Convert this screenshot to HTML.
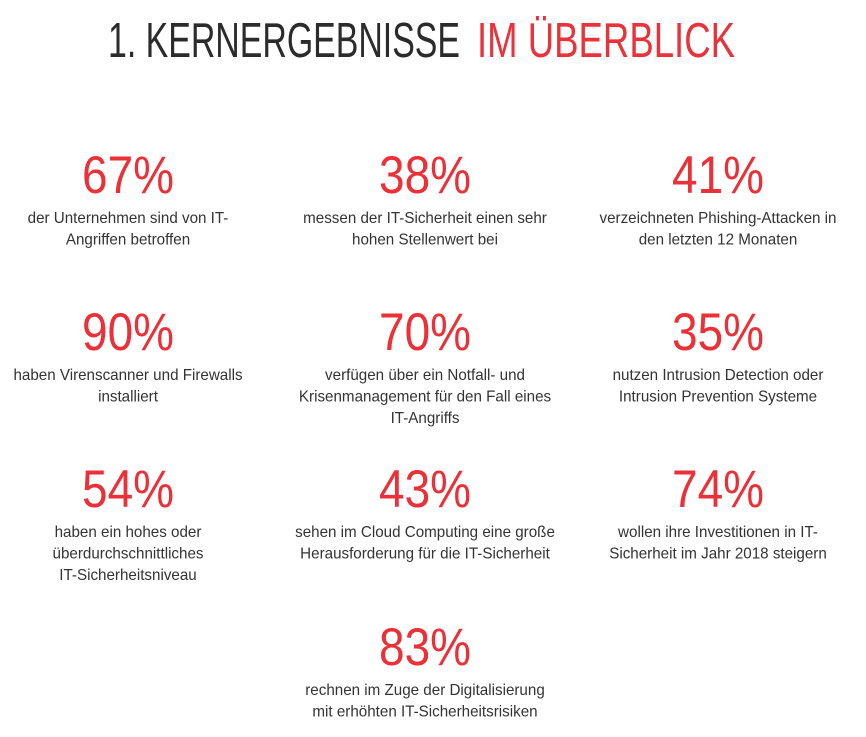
<!DOCTYPE html>
<html><head><meta charset="utf-8"><style>
html,body{margin:0;padding:0;background:#fff;}
svg{display:block;font-family:"Liberation Sans",sans-serif;}
</style></head><body>
<svg id="chart" width="866" height="737" viewBox="0 0 866 737">
<text x="108" y="57" font-size="49" fill="#2b2b2b" textLength="352" lengthAdjust="spacingAndGlyphs">1. KERNERGEBNISSE</text>
<text x="477" y="57" font-size="49" fill="#e8333b" textLength="258" lengthAdjust="spacingAndGlyphs">IM ÜBERBLICK</text>
<g id="stats"></g>
</svg>
<script>
const values = [67, 38, 41, 90, 70, 35, 54, 43, 74, 83];
const captions = [
 ["der Unternehmen sind von IT-","Angriffen betroffen"],
 ["messen der IT-Sicherheit einen sehr","hohen Stellenwert bei"],
 ["verzeichneten Phishing-Attacken in","den letzten 12 Monaten"],
 ["haben Virenscanner und Firewalls","installiert"],
 ["verfügen über ein Notfall- und","Krisenmanagement für den Fall eines","IT-Angriffs"],
 ["nutzen Intrusion Detection oder","Intrusion Prevention Systeme"],
 ["haben ein hohes oder","überdurchschnittliches","IT-Sicherheitsniveau"],
 ["sehen im Cloud Computing eine große","Herausforderung für die IT-Sicherheit"],
 ["wollen ihre Investitionen in IT-","Sicherheit im Jahr 2018 steigern"],
 ["rechnen im Zuge der Digitalisierung","mit erhöhten IT-Sicherheitsrisiken"]
];
const NS="http://www.w3.org/2000/svg";
const g=document.getElementById('stats');
const colX=[128,425,718], rowY=[193,350,507,665];
values.forEach((v,i)=>{
  const r=Math.floor(i/3), c=(i===9)?1:i%3;
  const cx=colX[c], by=rowY[r];
  const grp=document.createElementNS(NS,'g');
  
  
  const t=document.createElementNS(NS,'text');
  
  
  t.setAttribute('x',cx);t.setAttribute('y',by);
  t.setAttribute('text-anchor','middle');
  t.setAttribute('font-size','53');t.setAttribute('fill','#ec3038');
  t.setAttribute('textLength','92');t.setAttribute('lengthAdjust','spacingAndGlyphs');
  t.textContent=v+'%';
  grp.appendChild(t);
  captions[i].forEach((line,k)=>{
    const s=document.createElementNS(NS,'text');
    
    
    s.setAttribute('transform','translate('+cx+','+(by+30+k*21.5)+') scale(0.98,1)');
    s.setAttribute('text-anchor','middle');
    s.setAttribute('font-size','15.5');s.setAttribute('fill','#333');
    s.textContent=line;
    grp.appendChild(s);
  });
  g.appendChild(grp);
});
</script>
</body></html>
